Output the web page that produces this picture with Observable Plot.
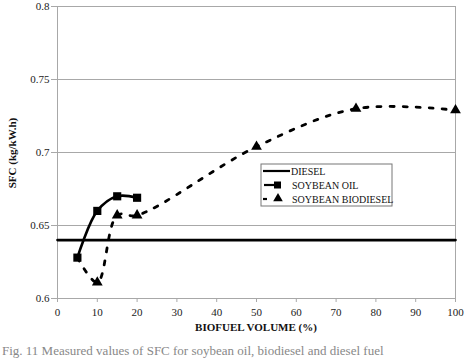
<!DOCTYPE html>
<html>
<head>
<meta charset="utf-8">
<script src="https://cdn.jsdelivr.net/npm/d3@7"></script>
<script src="https://cdn.jsdelivr.net/npm/@observablehq/plot@0.6"></script>
<style>
  html, body { margin: 0; padding: 0; background: #fff; overflow: hidden; }
  #chart { width: 474px; height: 359px; position: relative; }
</style>
</head>
<body>
<div id="chart"></div>
<script>
// ---- data ----
const xTicks = [0, 10, 20, 30, 40, 50, 60, 70, 80, 90, 100];
const yTicks = [0.6, 0.65, 0.7, 0.75, 0.8];
const dieselVolume = [0, 100];
const dieselSfc = [0.64, 0.64];
const oilVolume = [5, 10, 15, 20];
const oilSfc = [0.628, 0.660, 0.670, 0.669];
const bioVolume = [5, 10, 15, 20, 50, 75, 100];
const bioSfc = [0.628, 0.611, 0.657, 0.657, 0.704, 0.730, 0.729];
const seriesNames = ["DIESEL", "SOYBEAN OIL", "SOYBEAN BIODIESEL"];
const xLabel = "BIOFUEL VOLUME (%)";
const yLabel = "SFC (kg/kW.h)";
const caption = "Fig. 11 Measured values of SFC for soybean oil, biodiesel and diesel fuel";

const diesel = dieselVolume.map((x, i) => ({x, y: dieselSfc[i]}));
const oil = oilVolume.map((x, i) => ({x, y: oilSfc[i]}));
const bio = bioVolume.map((x, i) => ({x, y: bioSfc[i]}));

const W = 474, H = 359;
const serif = "'Liberation Serif', 'DejaVu Serif', serif";

const plot = Plot.plot({
  width: W,
  height: H,
  marginLeft: 57,
  marginRight: 19,
  marginTop: 6,
  marginBottom: 61,
  style: {fontFamily: serif, fontSize: "11px", color: "#222", background: "#fff"},
  x: {domain: [0, 100], ticks: xTicks, tickFormat: d => String(d), tickSize: 4, label: null},
  y: {domain: [0.6, 0.8], ticks: yTicks, tickFormat: d => String(d), tickSize: 6, label: null},
  marks: [
    Plot.ruleY(yTicks.filter(v => v > 0.6), {stroke: "#a8a8a8", strokeWidth: 1}),
    Plot.ruleX([100], {stroke: "#a8a8a8", strokeWidth: 1}),
    Plot.ruleX([0], {stroke: "#a8a8a8", strokeWidth: 1}),
    Plot.ruleY([0.6], {stroke: "#a8a8a8", strokeWidth: 1}),
    Plot.axisX({ticks: xTicks, tickFormat: d => String(d), tickSize: 4, stroke: "#a8a8a8", tickPadding: 6, fill: "#222"}),
    Plot.axisY({ticks: yTicks, tickFormat: d => String(d), tickSize: 6, stroke: "#a8a8a8", tickPadding: 2, fill: "#222"}),
    Plot.line(diesel, {x: "x", y: "y", stroke: "#000", strokeWidth: 2.6}),
    Plot.line(bio, {x: "x", y: "y", curve: "catmull-rom", stroke: "#000", strokeWidth: 2.8, strokeDasharray: "4,9"}),
    Plot.dot(bio, {x: "x", y: "y", filter: d => d.x > 5, symbol: "triangle", r: 4, fill: "#000", stroke: "none"}),
    Plot.line(oil, {x: "x", y: "y", curve: "catmull-rom", stroke: "#000", strokeWidth: 2.6}),
    Plot.dot(oil, {x: "x", y: "y", symbol: "square", r: 4.6, fill: "#000", stroke: "none"})
  ]
});

document.getElementById("chart").appendChild(plot);

const svg = d3.select(plot);

// axis titles
svg.append("text")
  .attr("x", 256).attr("y", 331)
  .attr("text-anchor", "middle")
  .attr("font-family", serif).attr("font-weight", "bold").attr("font-size", 11)
  .attr("fill", "#111")
  .text(xLabel);
svg.append("text")
  .attr("transform", "translate(16,153) rotate(-90)")
  .attr("text-anchor", "middle")
  .attr("font-family", serif).attr("font-weight", "bold").attr("font-size", 11)
  .attr("fill", "#111")
  .text(yLabel);

// legend
const lg = svg.append("g");
lg.append("rect").attr("x", 261).attr("y", 164).attr("width", 131).attr("height", 42)
  .attr("fill", "#fff").attr("stroke", "#777").attr("stroke-width", 1);
// diesel
lg.append("line").attr("x1", 263).attr("x2", 290).attr("y1", 171).attr("y2", 171)
  .attr("stroke", "#000").attr("stroke-width", 2.2);
// oil
lg.append("line").attr("x1", 264).attr("x2", 276).attr("y1", 185).attr("y2", 185)
  .attr("stroke", "#000").attr("stroke-width", 2.2);
lg.append("rect").attr("x", 274).attr("y", 181.5).attr("width", 7).attr("height", 7).attr("fill", "#000");
// biodiesel
lg.append("line").attr("x1", 263).attr("x2", 267).attr("y1", 199).attr("y2", 199)
  .attr("stroke", "#000").attr("stroke-width", 2.2);
lg.append("path").attr("d", d3.symbol(d3.symbolTriangle, 40)()).attr("transform", "translate(278,198.5)").attr("fill", "#000");
const legendY = [171, 185, 199];
seriesNames.forEach((n, i) => {
  lg.append("text").attr("x", i === 0 ? 291 : 292).attr("y", legendY[i] + 3.5)
    .attr("text-anchor", "start")
    .attr("font-family", serif).attr("font-size", 10).attr("fill", "#111")
    .text(n);
});

// caption
svg.append("text")
  .attr("x", 2).attr("y", 355)
  .attr("text-anchor", "start")
  .attr("font-family", serif).attr("font-size", 13).attr("fill", "#888")
  .text(caption);
</script>
</body>
</html>
